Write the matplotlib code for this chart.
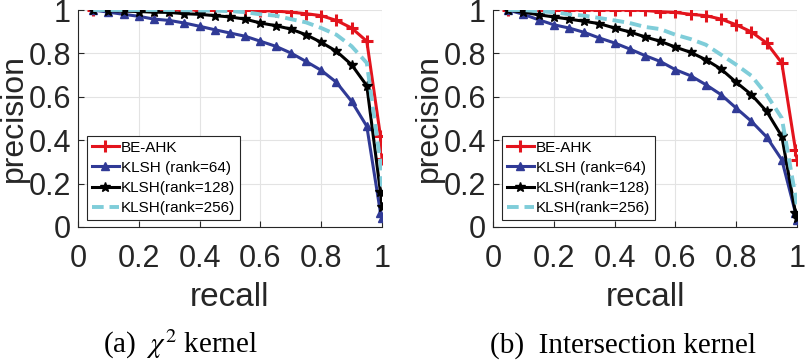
import matplotlib
matplotlib.use('Agg')
import matplotlib.pyplot as plt

plt.rcParams['font.family'] = ['Liberation Sans', 'DejaVu Sans']
plt.rcParams['mathtext.fontset'] = 'stix'

recall = [0.05, 0.10, 0.15, 0.20, 0.25, 0.30, 0.35, 0.40, 0.45, 0.50,
          0.55, 0.60, 0.65, 0.70, 0.75, 0.80, 0.85, 0.90, 0.95, 0.995, 1.0]

# (a) chi^2 kernel
chi_beahk = [1, 1, 1, 1, 1, 1, 1, 1, 1, 0.999, 0.998, 0.997, 0.995, 0.99,
             0.983, 0.974, 0.952, 0.917, 0.856, 0.418, 0.313]
chi_r64 = [1.0, 0.99, 0.98, 0.971, 0.958, 0.952, 0.94, 0.925, 0.909, 0.894,
           0.879, 0.856, 0.833, 0.802, 0.763, 0.722, 0.667, 0.579, 0.464, 0.065, 0.041]
chi_r128 = [1.0, 0.997, 0.995, 0.993, 0.99, 0.989, 0.983, 0.98, 0.974, 0.968,
            0.958, 0.94, 0.928, 0.912, 0.886, 0.851, 0.81, 0.748, 0.651, 0.16, 0.092]
chi_r256 = [1, 1, 1, 1, 1, 1, 0.999, 0.998, 0.997, 0.995, 0.99, 0.98, 0.974,
            0.958, 0.943, 0.917, 0.886, 0.833, 0.756, 0.295, 0.187]

# (b) intersection kernel
int_beahk = [1, 1, 1, 1, 1, 1, 1, 1, 1, 0.998, 0.992, 0.989, 0.98, 0.974,
             0.958, 0.932, 0.899, 0.848, 0.756, 0.356, 0.31]
int_r64 = [1.0, 0.98, 0.955, 0.932, 0.917, 0.897, 0.871, 0.848, 0.82, 0.79,
           0.763, 0.725, 0.697, 0.656, 0.61, 0.548, 0.487, 0.415, 0.31, 0.065, 0.034]
int_r128 = [1.0, 0.99, 0.978, 0.968, 0.958, 0.948, 0.937, 0.917, 0.899, 0.876,
            0.856, 0.829, 0.805, 0.771, 0.728, 0.667, 0.61, 0.533, 0.418, 0.065, 0.04]
int_r256 = [1.0, 1.0, 0.994, 0.99, 0.98, 0.974, 0.963, 0.952, 0.94, 0.922,
            0.912, 0.886, 0.866, 0.84, 0.794, 0.748, 0.697, 0.61, 0.502, 0.141, 0.095]

labels = ['BE-AHK', 'KLSH (rank=64)', 'KLSH(rank=128)', 'KLSH(rank=256)']
ticks = [0, 0.2, 0.4, 0.6, 0.8, 1]
ticklabels = ['0', '0.2', '0.4', '0.6', '0.8', '1']

fig = plt.figure(figsize=(8.08, 3.6), dpi=100)


def panel(rect, series, caption, cap_x):
    ax = fig.add_axes(rect)
    a, b, c, d = series
    ax.plot(recall, a, '-', color='#e3141d', lw=2.2, marker='+', ms=8, mew=2.2, label=labels[0])
    ax.plot(recall, b, '-', color='#303a96', lw=2.2, marker='^', ms=6, label=labels[1])
    ax.plot(recall, c, '-', color='black', lw=2.2, marker='*', ms=7, label=labels[2])
    ax.plot(recall, d, '--', color='#7fcdd9', lw=2.8, dashes=(3, 1.5), label=labels[3])
    ax.set_xlim(0, 1)
    ax.set_ylim(0, 1)
    ax.set_xticks(ticks)
    ax.set_xticklabels(ticklabels)
    ax.set_yticks(ticks)
    ax.set_yticklabels(ticklabels)
    ax.tick_params(direction='in', labelsize=22, colors='#262626', length=4)
    ax.tick_params(axis='x', pad=12)
    ax.tick_params(axis='y', pad=5)
    ax.grid(True, color='#e3e3e3', lw=0.8)
    ax.set_axisbelow(True)
    for s in ['top', 'right']:
        ax.spines[s].set_visible(False)
    for s in ['left', 'bottom']:
        ax.spines[s].set_color('#262626')
        ax.spines[s].set_linewidth(0.8)
    ax.set_xlabel('recall', fontsize=24, color='#262626', labelpad=6)
    ax.set_ylabel('precision', fontsize=23, color='#262626', labelpad=0)
    leg = ax.legend(loc='lower left', bbox_to_anchor=(0.02, 0.02), fontsize=11,
                    handlelength=1.8, handletextpad=0.1, borderpad=0.3,
                    labelspacing=0.4, borderaxespad=0.2, fancybox=False, framealpha=1)
    leg.get_frame().set_edgecolor('#262626')
    leg.get_frame().set_linewidth(0.8)
    fig.text(cap_x, 0.02, caption, fontsize=21, family='Liberation Serif', ha='left')
    return ax


panel([78 / 808, 133 / 360, 304 / 808, 217 / 360],
      (chi_beahk, chi_r64, chi_r128, chi_r256), r'(a)  $\chi^2$ kernel', 103 / 808)
panel([493 / 808, 133 / 360, 304 / 808, 217 / 360],
      (int_beahk, int_r64, int_r128, int_r256), '(b)  Intersection kernel', 490 / 808)

fig.savefig('out.png', dpi=100)
